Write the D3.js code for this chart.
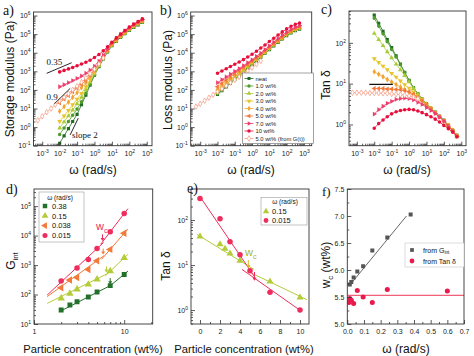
<!DOCTYPE html>
<html><head><meta charset="utf-8">
<script src="https://cdn.jsdelivr.net/npm/d3@7"></script>
<style>body{margin:0;background:#fff}svg{display:block}</style>
</head><body>
<svg width="474" height="356"></svg>
<script>
// ---------------- DATA ----------------
const omega = [0.01, 0.018, 0.032, 0.056, 0.1, 0.18, 0.32, 0.56, 1, 1.8, 3.2, 5.6, 10, 18, 32, 56, 100, 180, 320, 560];
const omegaGt = [0.00056, 0.001, 0.0018, 0.0032, 0.0056, 0.01, 0.018, 0.032, 0.056, 0.1, 0.18, 0.32, 0.56, 1, 1.8, 3.2];
const seriesNames = ["neat", "1.0 wt%", "2.0 wt%", "3.0 wt%", "4.0 wt%", "5.0 wt%", "7.0 wt%", "10 wt%", "5.0 wt% (from G(t))"];

// storage modulus G' (Pa)
const storageNeat = [0.135, 0.34, 0.83, 2.0, 4.8, 16, 52, 178, 630, 1780, 4600, 11000, 24000, 42000, 68000, 105000, 158000, 229000, 316000, 437000];
const storage1 = [0.4, 0.89, 2.0, 4.3, 9.3, 23, 66, 200, 660, 1860, 4800, 11500, 25000, 44000, 71000, 110000, 166000, 240000, 331000, 457000];
const storage2 = [0.89, 1.9, 4.0, 8.3, 18, 40, 100, 260, 740, 2000, 5100, 12300, 27000, 47000, 76000, 117000, 178000, 257000, 355000, 490000];
const storage3 = [2.0, 4.0, 7.9, 16, 32, 66, 148, 355, 890, 2240, 5500, 12900, 28000, 49000, 79000, 123000, 186000, 269000, 372000, 513000];
const storage4 = [7.1, 12.6, 22, 40, 71, 132, 250, 525, 1120, 2630, 6200, 13800, 29500, 51000, 83000, 129000, 195000, 282000, 389000, 537000];
const storage5 = [20, 32, 50, 79, 126, 200, 330, 600, 1200, 2750, 6300, 14500, 31600, 55000, 89000, 138000, 209000, 302000, 417000, 575000];
const storage7 = [148, 190, 245, 316, 417, 562, 794, 1170, 1900, 3550, 7400, 15800, 34000, 59000, 95500, 148000, 224000, 324000, 447000, 617000];
const storage10 = [930, 1120, 1350, 1620, 2000, 2450, 3090, 3980, 5500, 8100, 12600, 21000, 36300, 63000, 102000, 158000, 240000, 347000, 479000, 661000];
const storageGt = [2.3, 3.8, 6.3, 10, 16, 25, 40, 63, 100, 160, 260, 440, 740, 1300, 2500, 5200];

// loss modulus G'' (Pa)
const lossNeat = [58, 91, 145, 229, 363, 575, 912, 1450, 2290, 3630, 5750, 9330, 14800, 23400, 36300, 55000, 83000, 117000, 155000, 186000];
const loss1 = [62, 98, 155, 245, 390, 617, 977, 1550, 2450, 3890, 6170, 9770, 15500, 24500, 38000, 57500, 87000, 123000, 162000, 195000];
const loss2 = [72, 112, 178, 282, 447, 708, 1120, 1780, 2820, 4270, 6610, 10500, 16600, 26300, 40700, 61700, 93300, 132000, 174000, 209000];
const loss3 = [87, 135, 209, 324, 513, 794, 1230, 1950, 3020, 4570, 7080, 11000, 17400, 27500, 42700, 64600, 97700, 138000, 182000, 219000];
const loss4 = [107, 162, 245, 380, 589, 912, 1410, 2190, 3390, 5130, 7760, 12000, 18600, 29000, 44700, 67600, 102000, 145000, 191000, 229000];
const loss5 = [150, 225, 335, 500, 740, 1100, 1620, 2400, 3550, 5250, 8000, 12600, 20000, 30900, 47900, 72400, 107000, 151000, 204000, 251000];
const loss7 = [245, 355, 501, 708, 1000, 1410, 2000, 2880, 4170, 6310, 9550, 14800, 23400, 37200, 57500, 87100, 129000, 182000, 240000, 288000];
const loss10 = [794, 1050, 1380, 1820, 2400, 3160, 4270, 5890, 8320, 12000, 17800, 26300, 39800, 60300, 89100, 132000, 191000, 263000, 339000, 398000];
const lossGt = [12.6, 17.8, 26.3, 38, 55, 79, 115, 166, 240, 347, 501, 741, 1070, 1580, 2400, 3630];

// tan delta
const tanNeat = [479, 302, 191, 120, 76, 48, 30, 19, 12, 7.9, 5.6, 4.2, 3.2, 2.5, 2.0, 1.58, 1.26, 0.95, 0.72, 0.54];
const tan1 = [400, 257, 166, 107, 69, 45, 29, 18.6, 12, 7.9, 5.6, 4.2, 3.2, 2.5, 2.0, 1.58, 1.26, 0.95, 0.72, 0.54];
const tan2 = [170, 120, 85, 60, 43, 30, 21.9, 15.8, 11, 7.6, 5.5, 4.1, 3.1, 2.45, 1.95, 1.55, 1.23, 0.93, 0.71, 0.52];
const tan3 = [41, 33, 27, 22, 17.8, 14.5, 11.7, 9.5, 7.8, 6.3, 5.1, 4.1, 3.1, 2.45, 1.95, 1.55, 1.23, 0.93, 0.71, 0.52];
const tan4 = [19.5, 17, 14.8, 12.6, 11, 9.5, 8.3, 7.1, 6.2, 5.2, 4.6, 3.9, 3.1, 2.45, 1.95, 1.55, 1.23, 0.93, 0.71, 0.52];
const tan5 = [7.6, 7.6, 7.6, 7.4, 7.4, 7.2, 7.1, 6.8, 6.3, 5.5, 4.7, 3.8, 3.0, 2.4, 1.9, 1.55, 1.23, 0.93, 0.71, 0.52];
const tan7 = [1.8, 2.3, 2.8, 3.3, 3.7, 4.1, 4.3, 4.4, 4.3, 4.0, 3.5, 3.1, 2.6, 2.2, 1.86, 1.51, 1.2, 0.91, 0.69, 0.51];
const tan10 = [0.81, 1.05, 1.29, 1.55, 1.82, 2.04, 2.19, 2.29, 2.34, 2.29, 2.14, 1.95, 1.74, 1.55, 1.35, 1.15, 0.95, 0.79, 0.65, 0.5];
const tanGt = [6.0, 6.0, 6.0, 6.0, 5.9, 5.9, 5.9, 5.8, 5.8, 5.6, 5.5, 5.4, 5.2, 5.0, 4.7, 4.3];

// annotation guide lines (omega, value)
const guide035 = [[0.0018, 780], [0.049, 2900]];
const guide09 = [[0.005, 18], [0.04, 120]];
const guideSlope2 = [[0.04, 0.38], [0.117, 3.0]];
const guideTan = [[0.0052, 9.6], [0.117, 9.6]];

// panel d : G_int vs concentration
const omegaLabelsD = ["0.38", "0.15", "0.038", "0.015"];
const concD = [2, 2.5, 3, 4, 5, 7, 10];
const concDRed = [2, 3, 4, 5, 7, 10];
const gint038 = [30, 44, 57, 82, 122, 200, 480];
const gint015 = [74, 107, 150, 220, 330, 620, 1750];
const gint0038 = [170, 310, 380, 710, 1400, 3400, 12000];
const gint0015 = [290, 800, 1550, 3650, 13400, 56000];
const fitD038 = [[[2.0, 28], [7.2, 210]], [[6.8, 185], [11, 620]]];
const fitD015 = [[[1.4, 50], [6.6, 520]], [[6.2, 436], [11, 2310]]];
const fitD0038 = [[[1.4, 85], [6.0, 2100]], [[5.6, 1550], [11, 16800]]];
const fitD0015 = [[[1.4, 96], [5.9, 5800]], [[5.5, 5100], [11, 82000]]];
const arrowsD = [[7.0, 360, 225], [6.35, 900, 560], [5.85, 3600, 2300], [5.75, 11000, 6600]];

// panel e : tan delta vs concentration
const omegaLabelsE = ["0.15", "0.015"];
const concE015 = [0, 2, 2.5, 3, 4, 7, 10];
const tanE015 = [43, 29, 23, 18, 12.5, 4.3, 1.9];
const concE0015 = [0, 2, 3, 4, 5, 7, 10];
const tanE0015 = [300, 107, 33, 17, 7.5, 2.5, 1.0];
const fitE015 = [[[-0.3, 48], [5.4, 8.0]], [[4.8, 7.2], [10.7, 1.7]]];
const fitE0015 = [[[0, 330], [5.5, 5.3]], [[4.2, 8.0], [10.2, 0.92]]];
const arrowsE = [[4.83, 12.9, 8.6], [5.45, 7.0, 4.5]];

// panel f : w_c vs omega
const omegaFG = [0.015, 0.024, 0.038, 0.06, 0.095, 0.15, 0.24, 0.38];
const wcFromG = [5.73, 5.78, 5.86, 5.97, 6.07, 6.36, 6.6, 7.03];
const omegaFT = [0.0095, 0.015, 0.024, 0.038, 0.06, 0.095, 0.15, 0.24, 0.6];
const wcFromTan = [5.4, 5.47, 5.44, 5.38, 5.62, 5.5, 5.4, 5.64, 5.61];
const fitFG = [[0.01, 5.7], [0.355, 7.0]];
const meanFT = 5.53;

// ---------------- DRAWING ----------------
const SANS = "Liberation Sans, Arial, sans-serif";
const SERIF = "Liberation Serif, Times New Roman, serif";
const svg = d3.select("svg");
const defs = svg.append("defs");
const zip = (a, b) => a.map((v, i) => [v, b[i]]);

const styles = [
  {color: "#1f6b24", shape: "square"},
  {color: "#4f9c2c", shape: "circle"},
  {color: "#a9cb38", shape: "triUp"},
  {color: "#e6c42a", shape: "triDown"},
  {color: "#f3a42e", shape: "diamond"},
  {color: "#f27838", shape: "triLeft"},
  {color: "#ee3e6c", shape: "triRight"},
  {color: "#e80e3c", shape: "circle"},
  {color: "#f3957a", shape: "diamond", open: true}
];
const symType = {square: d3.symbolSquare, circle: d3.symbolCircle, triUp: d3.symbolTriangle, triDown: d3.symbolTriangle,
  triLeft: d3.symbolTriangle, triRight: d3.symbolTriangle, diamond: d3.symbolDiamond};
const symRot = {triDown: 180, triLeft: -90, triRight: 90};

function clip(id, b) {
  defs.append("clipPath").attr("id", id).append("rect")
    .attr("x", b.l).attr("y", b.t).attr("width", b.r - b.l).attr("height", b.b - b.t);
  return svg.append("g").attr("clip-path", `url(#${id})`);
}
function markers(g, pts, x, y, st, size) {
  g.append("g").selectAll("path").data(pts).join("path")
    .attr("d", d3.symbol().type(symType[st.shape]).size(size)())
    .attr("transform", d => `translate(${x(d[0])},${y(d[1])}) rotate(${symRot[st.shape] || 0})`)
    .attr("fill", st.open ? "#fff" : st.color)
    .attr("stroke", st.open ? st.color : "none").attr("stroke-width", 0.7);
}
function line(g, pts, x, y, color, w) {
  g.append("path").attr("d", d3.line().x(d => x(d[0])).y(d => y(d[1]))(pts))
    .attr("fill", "none").attr("stroke", color).attr("stroke-width", w || 0.8);
}
function logMinors(lo, hi) {
  const out = [];
  for (let k = Math.floor(Math.log10(lo)); k <= Math.ceil(Math.log10(hi)); k++)
    for (let m = 2; m <= 9; m++) { const v = m * Math.pow(10, k); if (v >= lo && v <= hi) out.push(v); }
  return out;
}
function pow10(g) {
  g.selectAll(".tick text").each(function (d) {
    const t = d3.select(this);
    if (t.text() === "") return;
    const e = Math.round(Math.log10(d));
    t.text(null);
    t.append("tspan").text("10");
    t.append("tspan").attr("dy", -3).attr("font-size", 5).text(e);
  });
}
function axes(b, x, y, o) {
  const g = svg.append("g");
  const gx = g.append("g").attr("transform", `translate(0,${b.b})`);
  gx.call(d3.axisBottom(x).tickValues(o.xMaj).tickSize(-4).tickPadding(o.xPad || 5).tickFormat(o.xFmt || (d => d)));
  if (o.xMin) gx.append("g").call(d3.axisBottom(x).tickValues(o.xMin).tickSize(-2).tickFormat(""));
  const gy = g.append("g").attr("transform", `translate(${b.l},0)`);
  gy.call(d3.axisLeft(y).tickValues(o.yMaj).tickSize(-4).tickPadding(3).tickFormat(o.yFmt || (d => d)));
  if (o.yMin) gy.append("g").call(d3.axisLeft(y).tickValues(o.yMin).tickSize(-2).tickFormat(""));
  g.selectAll(".domain").remove();
  g.selectAll(".tick line").attr("stroke", "#333").attr("stroke-width", 0.8);
  g.selectAll(".tick text").attr("font-size", 7).attr("fill", "#222").attr("font-family", SANS);
  if (o.xPow) pow10(gx);
  if (o.yPow) pow10(gy);
  svg.append("rect").attr("x", b.l).attr("y", b.t).attr("width", b.r - b.l).attr("height", b.b - b.t)
    .attr("fill", "none").attr("stroke", "#333").attr("stroke-width", 0.9);
}
function text(x, y, s, size, o = {}) {
  const t = svg.append("text").attr("x", x).attr("y", y).attr("font-size", size)
    .attr("font-family", o.font || SANS).attr("fill", o.color || "#111")
    .attr("text-anchor", o.anchor || "start");
  if (o.rot) t.attr("transform", `rotate(-90,${x},${y})`);
  return t.text(s);
}
function subText(x, y, main, sub, rest, size, o = {}) {
  const t = text(x, y, main, size, o);
  t.append("tspan").attr("font-size", size * 0.65).attr("dy", size * 0.25).text(sub);
  if (rest) t.append("tspan").attr("dy", -size * 0.25).text(rest);
  return t;
}
function arrowDown(g, x0, y0, y1, color) {
  g.append("line").attr("x1", x0).attr("x2", x0).attr("y1", y0).attr("y2", y1 - 2)
    .attr("stroke", color).attr("stroke-width", 1);
  g.append("path").attr("d", `M${x0 - 2},${y1 - 3}L${x0 + 2},${y1 - 3}L${x0},${y1}Z`).attr("fill", color);
}

const tanSets = [tanNeat, tan1, tan2, tan3, tan4, tan5, tan7, tan10];
const storageSets = [storageNeat, storage1, storage2, storage3, storage4, storage5, storage7, storage10];
const lossSets = [lossNeat, loss1, loss2, loss3, loss4, loss5, loss7, loss10];

function rheoPanel(id, b, x, y, sets, gtSet, yMaj) {
  const g = clip(id, b);
  sets.forEach((s, i) => { const p = zip(omega, s); line(g, p, x, y, styles[i].color, 0.8); markers(g, p, x, y, styles[i], 10); });
  const pg = zip(omegaGt, gtSet);
  line(g, pg, x, y, styles[8].color, 0.7); markers(g, pg, x, y, styles[8], 9);
  const xd = x.domain(), yd = y.domain();
  axes(b, x, y, {xMaj: [1e-3, 1e-2, 1e-1, 1, 10, 100, 1000], xMin: logMinors(xd[0], xd[1]), xPow: true,
    yMaj: yMaj, yMin: logMinors(yd[0], yd[1]), yPow: true});
  return g;
}

// ---- panel a ----
const bA = {l: 33.5, r: 152, t: 12, b: 145.7};
const xA = d3.scaleLog().domain([Math.pow(10, -3.5), Math.pow(10, 3.3)]).range([bA.l, bA.r]);
const yA = d3.scaleLog().domain([0.1, Math.pow(10, 6.19)]).range([bA.b, bA.t]);
const gA = rheoPanel("ca", bA, xA, yA, storageSets, storageGt, [0.1, 1, 10, 100, 1e3, 1e4, 1e5, 1e6]);
[guide035, guide09, guideSlope2].forEach(p => line(gA, p, xA, yA, "#111", 0.9));
text(46.5, 65, "0.35", 9, {font: SERIF});
text(46.5, 100, "0.9", 9, {font: SERIF});
text(72, 138, "slope 2", 9, {font: SERIF});

// ---- panel b ----
const bB = {l: 190.7, r: 311.7, t: 12, b: 145.7};
const xB = d3.scaleLog().domain([Math.pow(10, -3.55), Math.pow(10, 3.45)]).range([bB.l, bB.r]);
const yB = d3.scaleLog().domain([0.1, Math.pow(10, 6.19)]).range([bB.b, bB.t]);
rheoPanel("cb", bB, xB, yB, lossSets, lossGt, [0.1, 1, 10, 100, 1e3, 1e4, 1e5, 1e6]);
// legend b
{
  const lx = 242.5, ly = 73, lw = 71, lh = 70.5;
  svg.append("rect").attr("x", lx).attr("y", ly).attr("width", lw).attr("height", lh)
    .attr("fill", "#fff").attr("stroke", "#666").attr("stroke-width", 0.6);
  seriesNames.forEach((nm, i) => {
    const yy = ly + 5.5 + i * 7.5;
    const lg = svg.append("g");
    line(lg, [[lx + 2, yy], [lx + 11, yy]], d => d, d => d, styles[i].color, 0.8);
    markers(lg, [[lx + 6.5, yy]], d => d, d => d, styles[i], 9);
    text(lx + 13, yy + 2, nm, 5.8, {color: "#222"});
  });
}

// ---- panel c ----
const bC = {l: 349, r: 466, t: 11, b: 145.7};
const xC = d3.scaleLog().domain([Math.pow(10, -3.45), Math.pow(10, 3.27)]).range([bC.l, bC.r]);
const yC = d3.scaleLog().domain([Math.pow(10, -0.52), Math.pow(10, 2.78)]).range([bC.b, bC.t]);
const gC = rheoPanel("cc", bC, xC, yC, tanSets, tanGt, [1, 10, 100]);
line(gC, guideTan, xC, yC, "#111", 1.1);

// ---- panel d ----
const bD = {l: 34, r: 152.7, t: 189, b: 324};
const xD = d3.scaleLog().domain([1, 20.7]).range([bD.l, bD.r]);
const yD = d3.scaleLog().domain([10, Math.pow(10, 5.58)]).range([bD.b, bD.t]);
const stD = [{color: "#23702a", shape: "square"}, {color: "#b5cc3a", shape: "triUp"},
  {color: "#f27a3a", shape: "triLeft"}, {color: "#ee2d5e", shape: "circle"}];
{
  const g = clip("cd", bD);
  const setsD = [[concD, gint038, fitD038], [concD, gint015, fitD015], [concD, gint0038, fitD0038], [concDRed, gint0015, fitD0015]];
  setsD.forEach(([c, v, f], i) => {
    f.forEach(seg => line(g, seg, xD, yD, stD[i].color, 1));
    markers(g, zip(c, v), xD, yD, stD[i], 24);
  });
  arrowsD.forEach(([c, a, z], i) => arrowDown(g, xD(c), yD(a), yD(z), stD[i].color));
  axes(bD, xD, yD, {xMaj: [1, 10], xMin: logMinors(1, 20.7), xFmt: d => d,
    yMaj: [10, 100, 1e3, 1e4, 1e5], yMin: logMinors(10, Math.pow(10, 5.58)), yPow: true});
  // legend d
  svg.append("rect").attr("x", 39).attr("y", 192).attr("width", 45).attr("height", 50)
    .attr("fill", "#fff").attr("stroke", "#888").attr("stroke-width", 0.5);
  text(60, 199.5, "\u03c9 (rad/s)", 6.5, {anchor: "middle"});
  omegaLabelsD.forEach((s, i) => {
    const yy = 206 + i * 9.8;
    markers(svg, [[45, yy]], d => d, d => d, stD[i], 20);
    text(52, yy + 2.8, s, 7.5);
  });
  subText(96, 230, "w", "c", "", 11, {color: "#ee2d5e"});
}

// ---- panel e ----
const bE = {l: 191, r: 309, t: 189, b: 324};
const xE = d3.scaleLinear().domain([-0.9, 10.9]).range([bE.l, bE.r]);
const yE = d3.scaleLog().domain([Math.pow(10, -0.31), Math.pow(10, 2.69)]).range([bE.b, bE.t]);
const stE = [{color: "#b5cc3a", shape: "triUp"}, {color: "#ee2d5e", shape: "circle"}];
{
  const g = clip("ce", bE);
  fitE015.forEach(seg => line(g, seg, xE, yE, stE[0].color, 1));
  fitE0015.forEach(seg => line(g, seg, xE, yE, stE[1].color, 1));
  markers(g, zip(concE015, tanE015), xE, yE, stE[0], 22);
  markers(g, zip(concE0015, tanE0015), xE, yE, stE[1], 24);
  arrowsE.forEach(([c, a, z], i) => arrowDown(g, xE(c), yE(a), yE(z), i === 0 ? "#d9b82a" : stE[1].color));
  axes(bE, xE, yE, {xMaj: [0, 2, 4, 6, 8, 10], xMin: [1, 3, 5, 7, 9], xFmt: d => d,
    yMaj: [1, 10, 100], yMin: logMinors(Math.pow(10, -0.31), Math.pow(10, 2.69)), yPow: true});
  svg.append("rect").attr("x", 261).attr("y", 197.5).attr("width", 46).attr("height", 27.5)
    .attr("fill", "#fff").attr("stroke", "#888").attr("stroke-width", 0.5);
  text(285, 204, "\u03c9 (rad/s)", 6.5, {anchor: "middle"});
  omegaLabelsE.forEach((s, i) => {
    const yy = 211.5 + i * 9;
    markers(svg, [[266, yy]], d => d, d => d, stE[i], 18);
    text(272, yy + 2.8, s, 7.5);
  });
  subText(245, 256, "w", "c", "", 11, {color: "#a8b82a"});
}

// ---- panel f ----
const bF = {l: 347.3, r: 464, t: 189, b: 324};
const xF = d3.scaleLinear().domain([0, 0.7]).range([bF.l, bF.r]);
const yF = d3.scaleLinear().domain([5, 7.5]).range([bF.b, bF.t]);
{
  const g = clip("cf", bF);
  line(g, [[0, meanFT], [0.7, meanFT]], xF, yF, "#f0607a", 1.4);
  line(g, fitFG, xF, yF, "#555", 0.9);
  markers(g, zip(omegaFG, wcFromG), xF, yF, {color: "#555", shape: "square"}, 16);
  markers(g, zip(omegaFT, wcFromTan), xF, yF, {color: "#e8194b", shape: "circle"}, 20);
  axes(bF, xF, yF, {xMaj: [0, 0.1, 0.2, 0.3, 0.4, 0.5, 0.6, 0.7], xMin: [0.05, 0.15, 0.25, 0.35, 0.45, 0.55, 0.65],
    xFmt: d3.format(".1f"), yMaj: [5, 5.5, 6, 6.5, 7, 7.5], yMin: [5.25, 5.75, 6.25, 6.75, 7.25], yFmt: d3.format(".1f")});
  svg.append("rect").attr("x", 405).attr("y", 243).attr("width", 59).attr("height", 24)
    .attr("fill", "#fff").attr("stroke", "#bbb").attr("stroke-width", 0.5);
  markers(svg, [[412, 250]], d => d, d => d, {color: "#555", shape: "square"}, 14);
  markers(svg, [[412, 261]], d => d, d => d, {color: "#e8194b", shape: "circle"}, 18);
  subText(423, 252.5, "from G", "int", "", 7);
  text(423, 263.5, "from Tan \u03b4", 7);
}

// ---- titles ----
text(3, 15, "a)", 14, {font: SERIF});
text(160, 15, "b)", 14, {font: SERIF});
text(321, 14, "c)", 14, {font: SERIF});
text(6, 194, "d)", 14, {font: SERIF});
text(187, 193, "e)", 14, {font: SERIF});
text(322, 196, "f)", 13, {font: SERIF});

text(14, 79, "Storage modulus (Pa)", 12, {rot: true, anchor: "middle"});
text(171.5, 80, "Loss modulus (Pa)", 12, {rot: true, anchor: "middle"});
text(329.5, 85, "Tan \u03b4", 12, {rot: true, anchor: "middle"});
subText(14.5, 261, "G", "int", "", 12, {rot: true, anchor: "middle"});
text(169.5, 266, "Tan \u03b4", 12, {rot: true, anchor: "middle"});
subText(329.5, 265, "w", "c", " (wt%)", 12, {rot: true, anchor: "middle"});

text(93, 174, "\u03c9 (rad/s)", 12, {anchor: "middle"});
text(251, 174, "\u03c9 (rad/s)", 12, {anchor: "middle"});
text(407, 174, "\u03c9 (rad/s)", 12, {anchor: "middle"});
text(93, 353, "Particle concentration (wt%)", 11.2, {anchor: "middle"});
text(244, 353, "Particle concentration (wt%)", 11.2, {anchor: "middle"});
text(406, 353, "\u03c9 (rad/s)", 12, {anchor: "middle"});
</script>
</body></html>
